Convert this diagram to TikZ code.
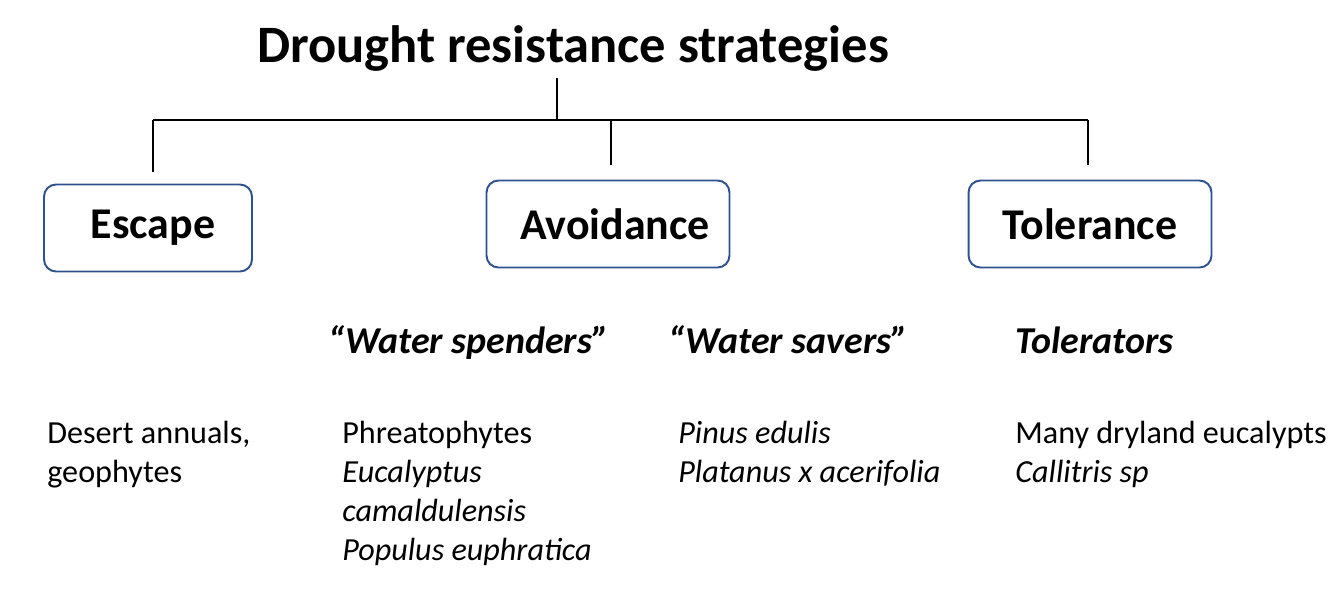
\documentclass[tikz,border=0pt]{standalone}
\usepackage{fontspec}
\setmainfont{Carlito}
\usetikzlibrary{positioning}
\definecolor{boxblue}{HTML}{2F528F}

\begin{document}
\begin{tikzpicture}[
  x=0.02cm, y=-0.02cm,
  box/.style={draw=boxblue, line width=1.1pt, rounded corners=0.24cm, minimum height=1.74cm, align=center, font=\fontsize{25}{28}\selectfont\bfseries},
  conn/.style={line width=1.1pt},
  head/.style={font=\fontsize{21.6}{25}\selectfont\bfseries\itshape, anchor=base west, inner sep=0pt},
  lst/.style={font=\fontsize{18.3}{22.2}\selectfont, align=left, anchor=north west, inner sep=0pt}
]
  \useasboundingbox (0,0) rectangle (1342,600);

  \node[font=\fontsize{29.9}{34}\selectfont\bfseries, anchor=base, inner sep=0pt] (title) at (573,62) {Drought resistance strategies};

  \node[box, minimum width=4.16cm] (esc) at (148,228) {\hspace*{0.2cm}Escape};
  \node[box, minimum width=4.86cm] (avo) at (608,224) {\hspace*{0.28cm}Avoidance};
  \node[box, minimum width=4.86cm] (tol) at (1090,224) {Tolerance};

  % tree lines
  \coordinate (stem) at (557,78);
  \coordinate (hub) at (557,120);
  \coordinate (lft) at (153,120);
  \coordinate (mid) at (611,120);
  \coordinate (rgt) at (1088,120);
  \coordinate (escTop) at (153,172);
  \coordinate (avoTop) at (611,165);
  \coordinate (tolTop) at (1088,165);
  \draw[conn] (stem) -- (hub);
  \draw[conn] (lft) -- (rgt);
  \draw[conn] (lft) -- (escTop);
  \draw[conn] (mid) -- (avoTop);
  \draw[conn] (rgt) -- (tolTop);

  \node[head] (spend) at (328,353) {“Water spenders”};
  \node[head] (save) at (668,353) {“Water savers”};
  \node[head] (tolr) at (1015,353) {Tolerators};

  \node[lst] (desert) at (47,421) {Desert annuals,\\geophytes};
  \node[lst] (phreat) at (342,421) {Phreatophytes\\\textit{Eucalyptus}\\\textit{camaldulensis}\\\textit{Populus euphratica}};
  \node[lst] (pinus) at (678,421) {\textit{Pinus edulis}\\\textit{Platanus x acerifolia}};
  \node[lst] (dryland) at (1015,421) {Many dryland eucalypts\\\textit{Callitris sp}};
\end{tikzpicture}
\end{document}
